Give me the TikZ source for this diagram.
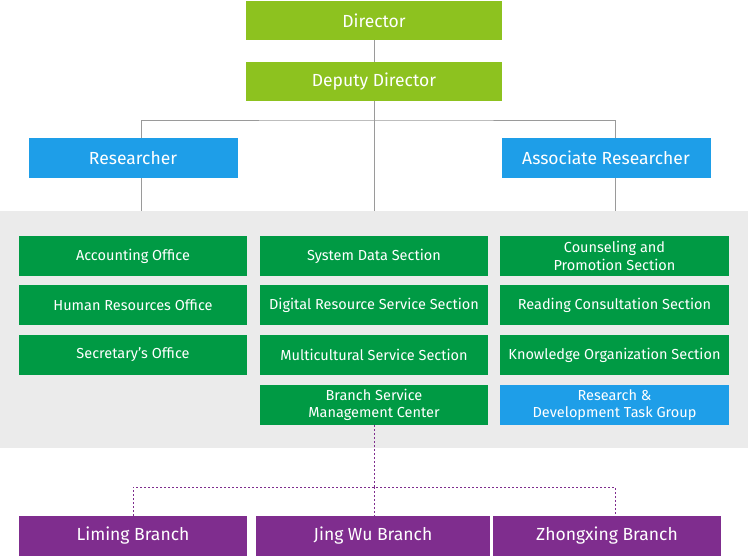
\documentclass[tikz,border=0pt]{standalone}
\usepackage{fontspec}
\setmainfont{Fira Sans}
\definecolor{lgreen}{HTML}{8DC21F}
\definecolor{dgreen}{HTML}{009A44}
\definecolor{sky}{HTML}{1E9EE8}
\definecolor{plum}{HTML}{7F2D8E}
\definecolor{bgray}{HTML}{EBEBEB}
\definecolor{lgray}{HTML}{9A9A9A}
\begin{document}
\begin{tikzpicture}
[
  x=1pt, y=-1pt,
  box/.style={draw=none,text=white,inner sep=0pt,align=center,font=\fontsize{14.5}{17.5}\selectfont},
  top/.style={box,fill=lgreen,minimum width=256pt,minimum height=39pt,font=\fontsize{17.5}{20}\selectfont},
  res/.style={box,fill=sky,minimum width=209pt,minimum height=40pt,font=\fontsize{17.5}{20}\selectfont},
  sec/.style={box,fill=dgreen,minimum width=228pt,minimum height=40pt},
  rnd/.style={box,fill=sky,minimum width=229pt,minimum height=40pt},
  br/.style={box,fill=plum,minimum height=40pt,font=\fontsize{17.5}{20}\selectfont},
  tree/.style={lgray,line width=0.8pt},
  dot/.style={plum,line width=0.9pt,dash pattern=on 2pt off 2pt}
]
\useasboundingbox (0,0) rectangle (748,557);
\fill[bgray] (0,211) rectangle (748,448);

\node[top] (dir) at(374,20.5) {Director};
\node[top] (dep) at(374,81.5) {Deputy Director};
\node[res] (res) at(133,158) {Researcher};
\node[res] (ares) at(606,158) {Associate Researcher};

\node[sec] (acc) at(133,256) {Accounting Office};
\node[sec] (hr) at(133,305) {Human Resources Office};
\node[sec] (sec) at(133,355) {Secretary's Office};

\node[sec] (sys) at(374,256) {System Data Section};
\node[sec] (dig) at(374,305) {Digital Resource Service Section};
\node[sec] (mul) at(374,355) {Multicultural Service Section};
\node[sec] (bsm) at(374,405) {Branch Service\\Management Center};

\node[sec,minimum width=229pt] (cou) at(614.5,256) {Counseling and\\Promotion Section};
\node[sec,minimum width=229pt] (rea) at(614.5,305) {Reading Consultation Section};
\node[sec,minimum width=229pt] (kno) at(614.5,355) {Knowledge Organization Section};
\node[rnd] (rd) at(614.5,405) {Research \&\\Development Task Group};

\node[br,minimum width=228pt] (lim) at(133,536) {Liming Branch};
\node[br,minimum width=234pt] (jin) at(373,536) {Jing Wu Branch};
\node[br,minimum width=228pt] (zho) at(607,536) {Zhongxing Branch};

\coordinate (hub) at(374,120);
\coordinate (mid) at(374,211);
\coordinate (lb) at(141,211);
\coordinate (rb) at(615,211);
\draw[tree] (dir) -- (dep);
\draw[tree] (dep) -- (mid);
\draw[tree] (141,178) -- (lb);
\draw[tree] (615,178) -- (rb);
\draw[tree] (141,138) |- (hub) -| (615,138);

\coordinate (bj) at(374,487);
\draw[dot] (bsm) -- (bj);
\draw[dot] (133,516) |- (bj) -| (615,516);
\draw[dot] (bj) -- (374,516);
\end{tikzpicture}
\end{document}
